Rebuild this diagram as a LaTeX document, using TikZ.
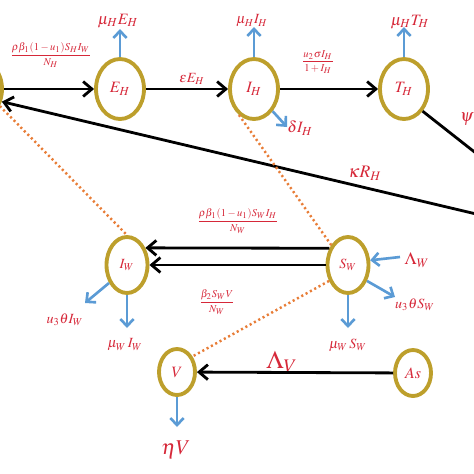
\documentclass[tikz,border=0pt]{standalone}
\usepackage{amsmath}
\usepackage{mathptmx}
\usetikzlibrary{arrows.meta,shapes.geometric}
\definecolor{cmptgold}{RGB}{189,159,44}
\definecolor{cmptred}{RGB}{214,40,57}
\definecolor{cmptblue}{RGB}{91,155,213}
\definecolor{cmptorange}{RGB}{232,125,55}
\tikzset{
  cmpt/.style={ellipse, draw=cmptgold, line width=2.2pt, inner sep=0pt, text=cmptred},
  human/.style={cmpt, minimum width=0.96cm, minimum height=1.2cm, font=\small},
  vect/.style={cmpt, minimum width=0.82cm, minimum height=1.12cm, font=\footnotesize},
  virus/.style={cmpt, minimum width=0.72cm, minimum height=0.92cm, font=\small},
  flow/.style={line width=1.6pt, -{Straight Barb[length=5pt,width=8.5pt]}},
  outflow/.style={cmptblue, line width=1.5pt, -{Straight Barb[length=4pt,width=7.5pt]}},
  contact/.style={cmptorange, line width=1.4pt, dash pattern=on 1.2pt off 1.6pt},
  rate/.style={text=cmptred, inner sep=1pt},
  ratefrac/.style={rate, font=\fontsize{6}{7}\selectfont},
}

\begin{document}
\begin{tikzpicture}[x=0.02cm, y=-0.02cm]
  \useasboundingbox (0,0) rectangle (474,474);

  % Human compartments
  \node[human] (SH) at (-22,89) {};
  \node[human] (EH) at (120,89) {$E_H$};
  \node[human] (IH) at (254,89) {$I_H$};
  \node[human] (TH) at (404,89) {$T_H$};
  \coordinate (RHin) at (505,176);
  \coordinate (RHout) at (510,222);

  % Vector and virus compartments
  \node[vect] (IW) at (127,265) {$I_W$};
  \node[vect] (SW) at (348,265) {$S_W$};
  \node[virus] (V) at (177,372) {$V$};
  \node[virus] (As) at (413,373) {$As$};

  % Free ends of the rate arrows
  \coordinate (oEH) at (120,29);
  \coordinate (oIH) at (254,27);
  \coordinate (oTH) at (404,27);
  \coordinate (oIHd) at (287,127);
  \coordinate (oIWd) at (85,303);
  \coordinate (oIW) at (127,328);
  \coordinate (oSW) at (348,328);
  \coordinate (oSWd) at (395,297);
  \coordinate (iSW) at (400,257);
  \coordinate (oV) at (177,427);

  % Rates
  \node[rate, font=\small] (muEH) at (118,21) {$\mu_H E_H$};
  \node[rate, font=\footnotesize] (muIH) at (252,21) {$\mu_H I_H$};
  \node[rate, font=\small] (muTH) at (410,22) {$\mu_H T_H$};
  \node[rate, font=\small] (dIH) at (300,128) {$\delta I_H$};
  \node[rate, font=\footnotesize] (epsEH) at (192,79) {$\varepsilon E_H$};
  \node[ratefrac] (lamH) at (51,55) {$\displaystyle\frac{\rho\beta_1(1-u_1)S_H I_W}{N_H}$};
  \node[ratefrac] (trH) at (318,62) {$\displaystyle\frac{u_2\sigma I_H}{1+I_H}$};
  \node[rate, font=\normalsize] (kapR) at (365,173) {$\kappa R_H$};
  \node[rate] (psiR) at (467,119) {$\psi$};
  \node[ratefrac] (lamW) at (238,221) {$\displaystyle\frac{\rho\beta_1(1-u_1)S_W I_H}{N_W}$};
  \node[ratefrac] (infV) at (217,302) {$\displaystyle\frac{\beta_2 S_W V}{N_W}$};
  \node[rate] (LamW) at (417,260) {$\Lambda_W$};
  \node[rate, font=\footnotesize] (u3SW) at (415,305) {$u_3\theta S_W$};
  \node[rate, font=\footnotesize] (muSW) at (348,345) {$\mu_W\,S_W$};
  \node[rate, font=\footnotesize] (u3IW) at (65,320) {$u_3\theta I_W$};
  \node[rate, font=\footnotesize] (muIW) at (125,345) {$\mu_W\,I_W$};
  \node[rate, font=\Large] (LamV) at (282,362) {$\Lambda_V$};
  \node[rate, font=\large] (etaV) at (176,450) {$\eta V$};

  % Transitions
  \draw[flow] (SH) -- (EH);
  \draw[flow] (EH) -- (IH);
  \draw[flow] (IH) -- (TH);
  \draw[flow] (TH.-50) -- (RHin);
  \draw[flow] (RHout) -- (SH.-28);
  \draw[flow] (SW.138) -- (IW.43);
  \draw[flow] (SW) -- (IW);
  \draw[flow] (As) -- (V);

  % Contacts
  \draw[contact] (SH.-38) -- (IW.north);
  \draw[contact] (IH.-120) -- (SW.130);
  \draw[contact] (SW.220) -- (V.45);

  % Deaths, recruitment, control
  \draw[outflow] (EH.north) -- (oEH);
  \draw[outflow] (IH.north) -- (oIH);
  \draw[outflow] (TH.north) -- (oTH);
  \draw[outflow] (IH.-50) -- (oIHd);
  \draw[outflow] (IW.-135) -- (oIWd);
  \draw[outflow] (IW.south) -- (oIW);
  \draw[outflow] (SW.south) -- (oSW);
  \draw[outflow] (SW.-40) -- (oSWd);
  \draw[outflow] (iSW) -- (SW.12);
  \draw[outflow] (V.south) -- (oV);
\end{tikzpicture}
\end{document}
